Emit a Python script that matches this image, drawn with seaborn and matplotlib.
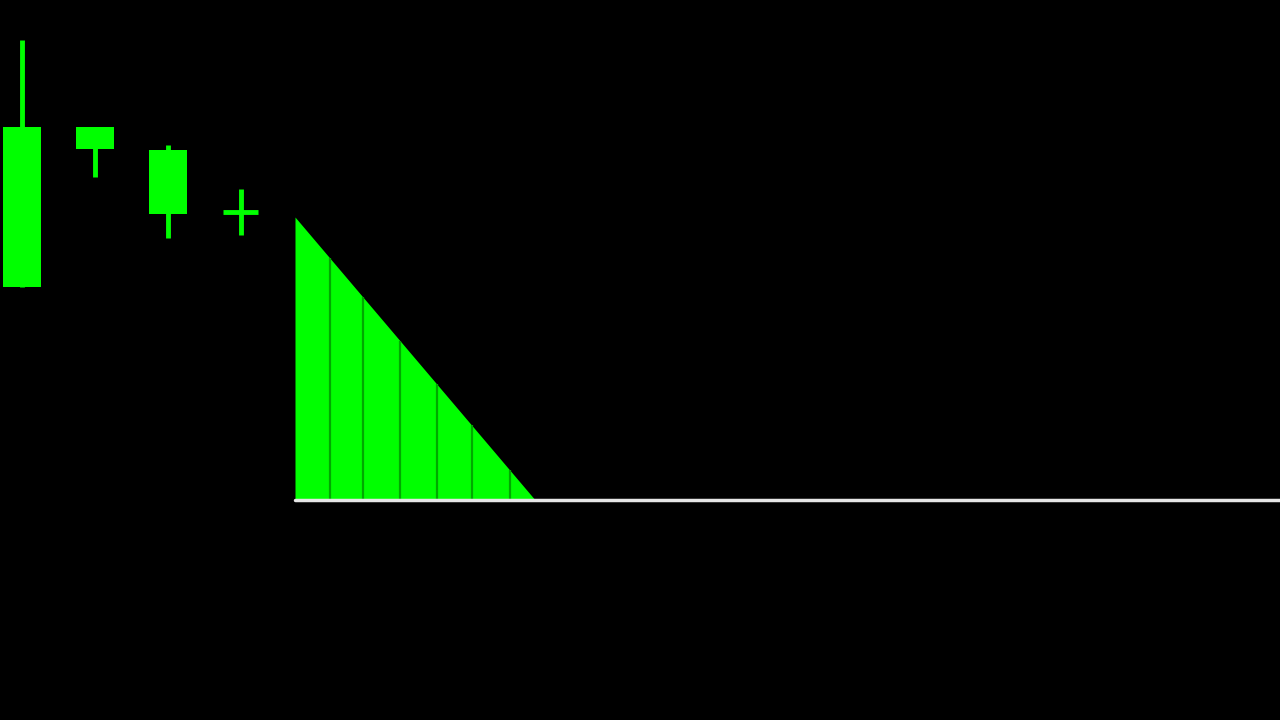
import numpy as np
import pandas as pd
import matplotlib
matplotlib.use("Agg")
import matplotlib.pyplot as plt
import seaborn as sns

# candle data (index, open, close, high, low)
idx = [0, 1, 2, 3]
opens = [2.13, 3.73, 3.50, 2.88]
closes = [3.73, 3.51, 2.86, 2.88]
highs = [4.60, 3.73, 3.55, 3.11]
lows = [2.13, 3.23, 2.62, 2.65]

# descending area after the candles
area_x = [3.74, 7.03]
area_y = [2.83, 0.0]
divider_x = [4.22, 4.67, 5.18, 5.68, 6.16, 6.68]

# baseline
base_x = [3.74, 17.3]
base_y = [0.0, 0.0]

green = "#00ff00"
sns.set_style("dark", {"axes.facecolor": "black", "figure.facecolor": "black"})

fig = plt.figure(figsize=(12.8, 7.2), dpi=100)
ax = fig.add_axes([0, 0, 1, 1])
ax.set_facecolor("black")

# wicks
ax.vlines(idx, lows, highs, color=green, linewidth=3.5, zorder=2)
# bodies
bottoms = [min(o, c) for o, c in zip(opens, closes)]
heights = [abs(c - o) for o, c in zip(opens, closes)]
ax.bar(idx, heights, bottom=bottoms, width=0.51, color=green, linewidth=0, zorder=3)
# doji: zero-height body drawn as a horizontal line
for i, o, c in zip(idx, opens, closes):
    if abs(c - o) < 1e-6:
        ax.hlines(o, i - 0.24, i + 0.24, color=green, linewidth=3.5, zorder=3)

# area with dividers
ax.fill_between(area_x, area_y, 0, color=green, linewidth=0, zorder=2)
div_top = np.interp(divider_x, area_x, area_y)
ax.vlines(divider_x, 0, div_top, color="#00a800", linewidth=1.6, zorder=3)

df_base = pd.DataFrame({"x": base_x, "y": base_y})
sns.lineplot(data=df_base, x="x", y="y", ax=ax, color="#e6e6e6", linewidth=2.5, zorder=4)

ax.set_xlim(-0.301, -0.301 + 1280 / 73)
ax.set_ylim(-2.2, 5.0)
ax.axis("off")

fig.savefig("out.png", dpi=100, facecolor="black")
